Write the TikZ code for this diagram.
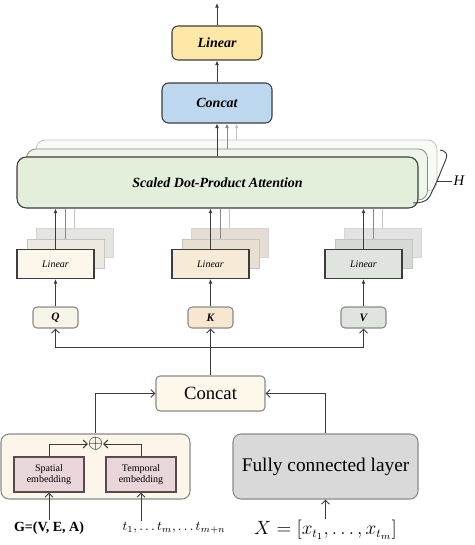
\documentclass[tikz,border=0pt]{standalone}
\usepackage{fontspec}
\setmainfont{Liberation Serif}
\usetikzlibrary{arrows.meta}
\definecolor{bordc}{HTML}{3C3C3C}
\definecolor{embbord}{HTML}{5A4A4E}
\definecolor{linTopC}{HTML}{FDE7A6}
\definecolor{concTopC}{HTML}{BDD7EE}
\definecolor{attC}{HTML}{E3EFDB}
\definecolor{attCb}{HTML}{EEF5EA}
\definecolor{attCc}{HTML}{F7FAF5}
\definecolor{qlinC}{HTML}{FBF7EB}
\definecolor{qlinCb}{HTML}{ECE9E1}
\definecolor{qlinCc}{HTML}{E6E4DF}
\definecolor{qC}{HTML}{F8F4E8}
\definecolor{klinC}{HTML}{F7EBD8}
\definecolor{klinCb}{HTML}{E9DFD0}
\definecolor{klinCc}{HTML}{E5DDD3}
\definecolor{kC}{HTML}{F7E7D1}
\definecolor{vlinC}{HTML}{DFE4DE}
\definecolor{vlinCb}{HTML}{D6DAD5}
\definecolor{vlinCc}{HTML}{E0E3DF}
\definecolor{vC}{HTML}{DFE4DF}
\definecolor{concBotC}{HTML}{FDF8EA}
\definecolor{embC}{HTML}{FCF6EA}
\definecolor{spC}{HTML}{E9D6DB}
\definecolor{fcC}{HTML}{D9D9D9}
\definecolor{grayA}{HTML}{8A8A8A}
\definecolor{grayB}{HTML}{C4C4C4}
\begin{document}
\begin{tikzpicture}[x=0.75pt,y=-0.75pt,
  box/.style={draw=bordc, line width=0.8pt, inner sep=0pt},
  topbox/.style={box, rounded corners=4.5pt, minimum width=67.5pt, minimum height=25.5pt, font=\fontsize{10.5}{12}\selectfont\bfseries\itshape},
  attbox/.style={box, rounded corners=7pt, minimum width=300.75pt, minimum height=38.25pt, font=\fontsize{10.5}{12}\selectfont\bfseries\itshape},
  linbox/.style={box, minimum width=57.75pt, minimum height=21.75pt, font=\fontsize{7.5}{8}\selectfont\itshape},
  backbox/.style={draw=#1, line width=0.6pt, inner sep=0pt},
  qkvbox/.style={box, draw=grayA, rounded corners=3pt, minimum width=33.75pt, minimum height=15.75pt, font=\fontsize{8.5}{10}\selectfont\bfseries\itshape},
  embbox/.style={box, draw=embbord, minimum width=52.5pt, minimum height=26.25pt, align=center, font=\fontsize{7.5}{8.5}\selectfont},
  arr/.style={draw=bordc, line width=0.7pt, -{Latex[length=3.5pt,width=3pt]}},
  arrA/.style={draw=grayA, line width=0.7pt, -{Latex[length=3.5pt,width=3pt]}},
  arrB/.style={draw=grayB, line width=0.7pt, -{Latex[length=3.5pt,width=3pt]}},
  lnA/.style={draw=grayA, line width=0.7pt},
  lnB/.style={draw=grayB, line width=0.7pt},
  oarr/.style={draw=bordc, line width=0.7pt, -{Straight Barb[length=3pt,width=6pt,line width=0.7pt]}}
]
\useasboundingbox (0,0) rectangle (474,545);

% top part
\node[topbox, fill=linTopC] (linTop) at (217,43) {Linear};
\node[topbox, fill=concTopC, minimum width=82.5pt, minimum height=30pt, rounded corners=5pt] (concTop) at (217,103) {Concat};
\coordinate (outTop) at (217,3);

% attention stack
\node[attbox, draw=grayB, fill=attCc, line width=0.6pt] (att3) at (236.5,165.5) {};
\node[attbox, draw=grayA, fill=attCb, line width=0.6pt] (att2) at (227,174.5) {};
\node[attbox, fill=attC] (att) at (217.5,182.5) {Scaled Dot-Product Attention};

% H brace
\draw[bordc, line width=0.7pt] (440,150) .. controls (446,151) and (448,154) .. (446,159) -- (437,181) -- (430,196) .. controls (427,202) and (420,203) .. (413,203);
\coordinate (braceTip) at (437,181);
\node[font=\fontsize{11}{12}\selectfont\itshape, anchor=west, inner sep=1pt] (Hlab) at (452,181) {H};
\draw[bordc, line width=0.7pt] (braceTip) -- (Hlab.west);

% linear stacks
\foreach \nm/\cx/\fa/\fb/\fc in {Q/55.5/qlinC/qlinCb/qlinCc, K/210.5/klinC/klinCb/klinCc, V/363.5/vlinC/vlinCb/vlinCc}{
  \node[linbox, backbox=grayB!70, fill=\fc] (lin\nm3) at (\cx+19,243) {};
  \node[linbox, backbox=grayB, fill=\fb] (lin\nm2) at (\cx+10,254) {};
  \node[linbox, fill=\fa] (lin\nm) at (\cx,264) {Linear};
}

% Q K V
\node[qkvbox, fill=qC] (Q) at (55.5,317.5) {Q};
\node[qkvbox, fill=kC] (K) at (210.5,317.5) {K};
\node[qkvbox, fill=vC] (V) at (363.5,317.5) {V};

% bottom part
\node[box, draw=grayA, rounded corners=3pt, fill=concBotC, minimum width=81.75pt, minimum height=26.25pt, font=\fontsize{14}{16}\selectfont] (concBot) at (210.5,393.5) {Concat};
\node[box, draw=grayA, rounded corners=6pt, fill=embC, minimum width=141.75pt, minimum height=48.75pt] (emb) at (95.5,466.5) {};
\node[embbox, fill=spC] (spat) at (49,474.5) {Spatial\\embedding};
\node[embbox, fill=spC] (temp) at (141,474.5) {Temporal\\embedding};
\node[inner sep=0pt, font=\fontsize{14}{14}\selectfont] (oplus) at (95.5,444) {$\oplus$};
\node[box, draw=grayA, rounded corners=6pt, fill=fcC, minimum width=138.75pt, minimum height=48.75pt, font=\fontsize{14.5}{17}\selectfont] (fc) at (325.5,466.5) {Fully connected layer};

\node[font=\fontsize{10.5}{12}\selectfont\bfseries, inner sep=1pt] (Glab) at (49,528) {G=(V, E, A)};
\node[font=\fontsize{10}{12}\selectfont, anchor=west, inner sep=1pt] (tlab) at (121,528) {$t_1,\ldots t_m,\ldots t_{m+n}$};
\node[font=\fontsize{13.5}{15}\selectfont, inner sep=1pt] (Xlab) at (325.5,530) {$X=[x_{t_1},\ldots,x_{t_m}]$};

% connectors top
\draw[arr] (linTop.north) -- (outTop);
\draw[arr] (concTop.north) -- (linTop.south);
\draw[arr] (att.north -| concTop.south) -- (concTop.south);
\draw[arrA] (att2.north) -- (att2.north |- concTop.south);
\draw[arrB] (att3.north) -- (att3.north |- concTop.south);

\foreach \nm in {Q,K,V}{
  \draw[lnB] (lin\nm3.north) -- (lin\nm3.north |- att.south);
  \draw[lnA] (lin\nm2.north) -- (lin\nm2.north |- att.south);
  \draw[arr] (lin\nm.north) -- (lin\nm.north |- att.south);
  \draw[arr] (\nm.north) -- (lin\nm.south);
}

% QKV split
\coordinate (split) at (210.5,347);
\draw[oarr] (concBot.north) -- (K.south);
\draw[oarr] (split) -| (Q.south);
\draw[oarr] (split) -| (V.south);

% bottom connectors
\draw[oarr] (emb.north) |- (concBot.west);
\draw[oarr] (fc.north) |- (concBot.east);
\draw[oarr] (spat.north) |- (oplus.west);
\draw[oarr] (temp.north) |- (oplus.east);
\draw[oarr] (Glab.north) -- (spat.south);
\draw[oarr] (temp.south |- tlab.north) -- (temp.south);
\draw[oarr] (Xlab.north) -- (fc.south);
\end{tikzpicture}
\end{document}
